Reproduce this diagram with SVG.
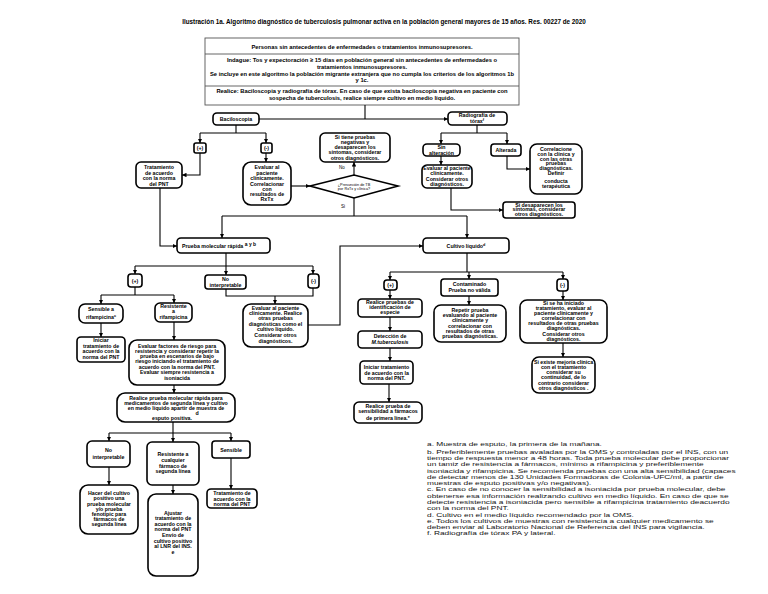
<svg xmlns="http://www.w3.org/2000/svg" width="768" height="594" viewBox="0 0 768 594">
<style>
.b{fill:#fff;stroke:#000;stroke-width:1.6}
.l{fill:none;stroke:#000;stroke-width:1.1}
.a{fill:none;stroke:#000;stroke-width:1.1;marker-end:url(#ar)}
text{font-family:"Liberation Sans",Arial,sans-serif}
.t{font-size:5.25px;font-weight:bold;text-anchor:middle}
.s{font-size:3.8px;baseline-shift:super}
.ti{font-size:6.3px;font-weight:bold;text-anchor:middle}
.hb{font-size:5.8px;font-weight:bold;text-anchor:middle}
.lb{font-size:4.5px;text-anchor:middle}
.fn{font-size:6px;fill:#111}
</style>
<defs>
<marker id="ar" viewBox="0 0 6 6" refX="6" refY="3" markerWidth="4.5" markerHeight="4.5" markerUnits="userSpaceOnUse" orient="auto"><path d="M0,0L6,3L0,6z" fill="#000"/></marker>
</defs>
<rect width="768" height="594" fill="#fff"/>
<text class="ti" x="384" y="24">Ilustración 1a. Algoritmo diagnóstico de tuberculosis pulmonar activa en la población general mayores de 15 años.  Res. 00227 de 2020</text>

<g id="header">
<rect x="205" y="38" width="314" height="67" fill="#fff" stroke="#555" stroke-width="0.9"/>
<line x1="205" y1="54" x2="519" y2="54" stroke="#555" stroke-width="0.9"/>
<line x1="205" y1="86" x2="519" y2="86" stroke="#555" stroke-width="0.9"/>
<text class="hb" x="362" y="49">Personas sin antecedentes de enfermedades o tratamientos inmunosupresores.</text>
<text class="hb" x="362" y="62">Indague: Tos y expectoración ≥ 15 días en población general sin antecedentes de enfermedades o</text>
<text class="hb" x="362" y="68.7">tratamientos inmunosupresores.</text>
<text class="hb" x="362" y="75.5">Se incluye en este algoritmo la población migrante extranjera que no cumpla los criterios de los algoritmos 1b</text>
<text class="hb" x="362" y="82.2">y 1c.</text>
<text class="hb" x="362" y="92.8">Realice: Baciloscopia y radiografía de tórax. En caso de que exista baciloscopia negativa en paciente con</text>
<text class="hb" x="362" y="99.5">sospecha de tuberculosis, realice siempre cultivo en medio líquido.</text>
</g>

<g id="connectors">
<path class="l" d="M365,105V119"/>
<path class="a" d="M259,119H448"/>
<path class="l" d="M236,125V133M200,133H266"/>
<path class="a" d="M200,133V143"/>
<path class="a" d="M266,133V143"/>
<path class="a" d="M200,153V175H182"/>
<path class="a" d="M266,153V162"/>
<path class="a" d="M160,188V246H177"/>
<path class="a" d="M291,186H310"/>
<path class="a" d="M354,175V162"/>
<path class="l" d="M354,198V216M222,216H467"/>
<path class="a" d="M222,216V238"/>
<path class="a" d="M467,216V238"/>
<path class="l" d="M477,125V133M441,133H507"/>
<path class="a" d="M441,133V144"/>
<path class="a" d="M507,133V144"/>
<path class="a" d="M441,156V165"/>
<path class="a" d="M507,156V169H530"/>
<path class="a" d="M451,188V210H503"/>
<path class="a" d="M308,325H340V246H423"/>
<path class="l" d="M135,266H313"/>
<path class="a" d="M226,253V275"/>
<path class="a" d="M135,266V274"/>
<path class="a" d="M313,266V274"/>
<path class="l" d="M226,289V296H313V288"/>
<path class="a" d="M275,296V304"/>
<path class="l" d="M135,287V295M101,295H174"/>
<path class="a" d="M101,295V304"/>
<path class="a" d="M174,295V303"/>
<path class="a" d="M101,323V337"/>
<path class="a" d="M174,322V340"/>
<path class="a" d="M174,385V393"/>
<path class="l" d="M173,422V433M109,433H231"/>
<path class="a" d="M109,433V441"/>
<path class="a" d="M173,433V442"/>
<path class="a" d="M231,433V441"/>
<path class="a" d="M109,467V485"/>
<path class="a" d="M173,485V494"/>
<path class="a" d="M231,458V489"/>
<path class="l" d="M467,253V272M390,272H563"/>
<path class="a" d="M390,272V280"/>
<path class="a" d="M469,272V279"/>
<path class="a" d="M563,272V279"/>
<path class="a" d="M390,290V299"/>
<path class="a" d="M390,317V331"/>
<path class="a" d="M390,348V361"/>
<path class="a" d="M389,384V402"/>
<path class="a" d="M469,296V305"/>
<path class="a" d="M563,291V300"/>
<path class="a" d="M563,343V357"/>
<text class="lb" x="342" y="169">No</text>
<text class="lb" x="343" y="208">Si</text>
</g>

<g id="baciloscopia"><rect class="b" x="213" y="113" width="46" height="12" rx="4"/><text class="t" x="236" y="121">Baciloscopia</text></g>
<g id="radiografia"><rect class="b" x="448" y="112" width="59" height="13" rx="4"/><text class="t" x="477" y="117">Radiografía de</text><text class="t" x="477" y="123">tórax<tspan class="s">f</tspan></text></g>
<g id="bacilo-pos"><rect class="b" x="194" y="143" width="12" height="10" rx="2"/><text class="t" x="200" y="150">(+)</text></g>
<g id="bacilo-neg"><rect class="b" x="261" y="143" width="11" height="10" rx="2"/><text class="t" x="266.5" y="150">(-)</text></g>
<g id="tratamiento-1"><rect class="b" x="136" y="162" width="46" height="26" rx="5"/>
<text class="t" x="159" y="169">Tratamiento</text><text class="t" x="159" y="174.5">de acuerdo</text><text class="t" x="159" y="180">con la norma</text><text class="t" x="159" y="185.5">del PNT</text></g>
<g id="evaluar-1"><rect class="b" x="243" y="162" width="48" height="43" rx="8"/>
<text class="t" x="267" y="169">Evaluar al</text><text class="t" x="267" y="174.5">paciente</text><text class="t" x="267" y="180">clínicamente.</text><text class="t" x="267" y="185.5">Correlacionar</text><text class="t" x="267" y="191">con</text><text class="t" x="267" y="196">resultados de</text><text class="t" x="267" y="201">RxTx</text></g>
<g id="decision"><polygon class="b" points="310,186 354,175 398,186 354,198"/>
<text class="lb" style="font-size:3.8px" x="354" y="185.5">¿Presunción  de TB</text><text class="lb" style="font-size:3.8px" x="354" y="190">por RxTx y clínica?</text></g>
<g id="si-tiene"><rect class="b" x="320" y="133" width="70" height="29" rx="5"/>
<text class="t" x="355" y="138.5">Si tiene pruebas</text><text class="t" x="355" y="143.7">negativas y</text><text class="t" x="355" y="149">desaparecen los</text><text class="t" x="355" y="154.3">síntomas, considerar</text><text class="t" x="355" y="159.5">otros diagnósticos.</text></g>
<g id="sin-alteracion"><rect class="b" x="423" y="144" width="37" height="12" rx="4"/><text class="t" x="441.5" y="149">Sin</text><text class="t" x="441.5" y="154.5">alteración</text></g>
<g id="alterada"><rect class="b" x="491" y="144" width="30" height="12" rx="3"/><text class="t" x="506" y="151.5">Alterada</text></g>
<g id="evaluar-2"><rect class="b" x="422" y="165" width="50" height="23" rx="5"/>
<text class="t" x="447" y="170">Evaluar al paciente</text><text class="t" x="447" y="175">clínicamente.</text><text class="t" x="447" y="180.5">Considerar otros</text><text class="t" x="447" y="186">diagnósticos.</text></g>
<g id="correlacione"><rect class="b" x="530" y="144" width="52" height="50" rx="7"/>
<text class="t" x="556" y="150.5">Correlacione</text><text class="t" x="556" y="156">con la clínica y</text><text class="t" x="556" y="160.5">con las otras</text><text class="t" x="556" y="165">pruebas</text><text class="t" x="556" y="170">diagnósticas.</text><text class="t" x="556" y="175">Definir</text><text class="t" x="556" y="183">conducta</text><text class="t" x="556" y="188">terapéutica</text></g>
<g id="si-desaparecen"><rect class="b" x="503" y="202" width="72" height="16" rx="3"/>
<text class="t" x="539" y="206.5">Si desaparecen los</text><text class="t" x="539" y="211.3">síntomas, considerar</text><text class="t" x="539" y="216">otros diagnósticos.</text></g>

<g id="prueba-molecular"><rect class="b" x="177" y="238" width="93" height="15" rx="4"/><text class="t" style="text-anchor:start" x="182" y="247.5">Prueba molecular rápida <tspan style="font-size:5px" dy="-2">a y b</tspan></text></g>
<g id="cultivo"><rect class="b" x="423" y="238" width="86" height="15" rx="4"/><text class="t" x="466" y="247.5">Cultivo líquido<tspan class="s">d</tspan></text></g>
<g id="pm-pos"><rect class="b" x="128" y="274" width="14" height="13" rx="3"/><text class="t" x="135" y="282.5">(+)</text></g>
<g id="pm-noint"><rect class="b" x="205" y="275" width="41" height="14" rx="3"/><text class="t" x="225.5" y="280.5">No</text><text class="t" x="225.5" y="286.5">interpretable</text></g>
<g id="pm-neg"><rect class="b" x="308" y="274" width="11" height="14" rx="3"/><text class="t" x="313.5" y="282.5">(-)</text></g>
<g id="sensible-rif"><rect class="b" x="79" y="304" width="44" height="19" rx="6"/><text class="t" x="101" y="310.5">Sensible a</text><text class="t" x="101" y="318.5">rifampicina<tspan class="s">c</tspan></text></g>
<g id="resistente-rif"><rect class="b" x="155" y="303" width="37" height="19" rx="5"/><text class="t" x="173.5" y="308">Resistente</text><text class="t" x="173.5" y="313">a</text><text class="t" x="173.5" y="319">rifampicina</text></g>
<g id="evaluar-3"><rect class="b" x="243" y="304" width="65" height="43" rx="8"/>
<text class="t" x="275.5" y="310">Evaluar al paciente</text><text class="t" x="275.5" y="315">clínicamente. Realice</text><text class="t" x="275.5" y="320">otras pruebas</text><text class="t" x="275.5" y="326">diagnósticas como el</text><text class="t" x="275.5" y="331">cultivo líquido.</text><text class="t" x="275.5" y="337">Considerar otros</text><text class="t" x="275.5" y="343">diagnósticos.</text></g>
<g id="iniciar-1"><rect class="b" x="77" y="337" width="48" height="25" rx="4"/>
<text class="t" x="101" y="342">Iniciar</text><text class="t" x="101" y="347.5">tratamiento de</text><text class="t" x="101" y="353">acuerdo con la</text><text class="t" x="101" y="358.5">norma del PNT</text></g>
<g id="evaluar-factores"><rect class="b" x="129" y="340" width="96" height="45" rx="8"/>
<text class="t" x="177" y="348">Evaluar factores de riesgo para</text><text class="t" x="177" y="353">resistencia y considerar repetir la</text><text class="t" x="177" y="358">prueba en escenarios de bajo</text><text class="t" x="177" y="363">riesgo iniciando el tratamiento de</text><text class="t" x="177" y="369">acuerdo con la norma del PNT.</text><text class="t" x="177" y="374">Evaluar siempre resistencia a</text><text class="t" x="177" y="379.5">isoniacida</text></g>
<g id="realice-molecular"><rect class="b" x="117" y="393" width="118" height="29" rx="8"/>
<text class="t" x="176" y="400">Realice prueba molecular rápida para</text><text class="t" x="176" y="405">medicamentos de segunda línea y cultivo</text><text class="t" x="176" y="410">en medio líquido apartir de muestra de</text><text class="t" x="197" y="414.5">d</text><text class="t" x="172" y="419.5">esputo positiva.</text></g>
<g id="noint-2"><rect class="b" x="87" y="441" width="43" height="26" rx="5"/><text class="t" x="108.5" y="452">No</text><text class="t" x="108.5" y="458.5">interpretable</text></g>
<g id="resistente-2"><rect class="b" x="147" y="442" width="52" height="43" rx="5"/>
<text class="t" x="173" y="456">Resistente a</text><text class="t" x="173" y="462">cualquier</text><text class="t" x="173" y="468">fármaco de</text><text class="t" x="173" y="473">segunda línea</text></g>
<g id="sensible-2"><rect class="b" x="212" y="441" width="38" height="17" rx="3"/><text class="t" x="231" y="451.5">Sensible</text></g>
<g id="hacer-cultivo"><rect class="b" x="80" y="485" width="58" height="49" rx="8"/>
<text class="t" x="109" y="495">Hacer del cultivo</text><text class="t" x="109" y="500">positivo una</text><text class="t" x="109" y="505.5">prueba molecular</text><text class="t" x="109" y="511">y/o prueba</text><text class="t" x="109" y="516">fenotípic para</text><text class="t" x="109" y="521">fármacos de</text><text class="t" x="109" y="526">segunda línea</text></g>
<g id="ajustar"><rect class="b" x="148" y="494" width="50" height="82" rx="8"/>
<text class="t" x="173" y="515">Ajustar</text><text class="t" x="173" y="520">tratamiento de</text><text class="t" x="173" y="526">acuerdo con la</text><text class="t" x="173" y="531">norma del PNT</text><text class="t" x="173" y="537">Envío de</text><text class="t" x="173" y="543">cultivo positivo</text><text class="t" x="173" y="548">al LNR del INS.</text><text class="t" x="173" y="554">e</text></g>
<g id="tratamiento-2"><rect class="b" x="207" y="489" width="50" height="19" rx="4"/>
<text class="t" x="232" y="495">Tratamiento de</text><text class="t" x="232" y="500.5">acuerdo con la</text><text class="t" x="232" y="506">norma del PNT</text></g>

<g id="cult-pos"><rect class="b" x="384" y="280" width="13" height="10" rx="3"/><text class="t" x="390.5" y="287">(+)</text></g>
<g id="contaminado"><rect class="b" x="441" y="279" width="57" height="17" rx="3"/><text class="t" x="469.5" y="285.5">Contaminado</text><text class="t" x="469.5" y="292">Prueba no válida</text></g>
<g id="cult-neg"><rect class="b" x="557" y="279" width="11" height="12" rx="3"/><text class="t" x="562.5" y="287">(-)</text></g>
<g id="identificacion"><rect class="b" x="358" y="299" width="64" height="18" rx="4"/>
<text class="t" x="390" y="304">Realice pruebas de</text><text class="t" x="390" y="309">identificación de</text><text class="t" x="390" y="314">especie</text></g>
<g id="deteccion"><rect class="b" x="358" y="331" width="64" height="17" rx="4"/>
<text class="t" x="390" y="337.5">Detección de</text><text class="t" x="390" y="344" font-style="italic">M.tuberculosis</text></g>
<g id="iniciar-2"><rect class="b" x="360" y="361" width="53" height="23" rx="4"/>
<text class="t" x="386.5" y="369">Iniciar tratamiento</text><text class="t" x="386.5" y="374.5">de acuerdo con la</text><text class="t" x="386.5" y="380">norma del PNT.</text></g>
<g id="sensibilidad"><rect class="b" x="354" y="402" width="68" height="21" rx="5"/>
<text class="t" x="388" y="408">Realice prueba de</text><text class="t" x="388" y="412.5">sensibilidad a fármacos</text><text class="t" x="388" y="419.5">de primera línea.<tspan class="s">e</tspan></text></g>
<g id="repetir"><rect class="b" x="434" y="305" width="72" height="37" rx="7"/>
<text class="t" x="470" y="311.5">Repetir prueba</text><text class="t" x="470" y="316.5">evaluando al paciente</text><text class="t" x="470" y="321.5">clínicamente y</text><text class="t" x="470" y="328">correlacionar con</text><text class="t" x="470" y="332.5">resultados de otras</text><text class="t" x="470" y="337.5">pruebas diagnósticas.</text></g>
<g id="si-se-ha"><rect class="b" x="520" y="300" width="87" height="43" rx="7"/>
<text class="t" x="563.5" y="304.5">Si se ha iniciado</text><text class="t" x="563.5" y="309.5">tratamiento, evaluar al</text><text class="t" x="563.5" y="314.5">paciente clínicamente y</text><text class="t" x="563.5" y="320">correlacionar con</text><text class="t" x="563.5" y="325">resultados de otras pruebas</text><text class="t" x="563.5" y="330">diagnósticas.</text><text class="t" x="563.5" y="335.5">Considerar otros</text><text class="t" x="563.5" y="340.5">diagnósticos.</text></g>
<g id="si-existe"><rect class="b" x="532" y="357" width="63" height="36" rx="7"/>
<text class="t" x="563.5" y="364">Si existe mejoría clínica</text><text class="t" x="563.5" y="369">con el tratamiento</text><text class="t" x="563.5" y="374">considerar su</text><text class="t" x="563.5" y="379">continuidad, de lo</text><text class="t" x="563.5" y="385">contrario considerar</text><text class="t" x="563.5" y="390">otros diagnósticos .</text></g>

<g id="footnotes" transform="translate(427 0) scale(1.39 1)">
<text class="fn" x="0" y="446.5">a. Muestra de esputo, la primera de la mañana.</text>
<text class="fn" x="0" y="454">b. Preferiblemente pruebas avaladas por la OMS y controladas por el INS, con un</text>
<text class="fn" x="0" y="460.2">tiempo de respuesta menor a 48 horas. Toda prueba molecular debe proporcionar</text>
<text class="fn" x="0" y="466.4">un tamiz de resistencia a fármacos, mínimo a rifampicina y preferiblemente</text>
<text class="fn" x="0" y="472.6">isoniacida y rifampicina. Se recomienda pruebas con una alta sensibilidad (capaces</text>
<text class="fn" x="0" y="478.8">de detectar menos de 130 Unidades Formadoras de Colonia-UFC/ml, a partir de</text>
<text class="fn" x="0" y="485">muestras de esputo positivas y/o negativas).</text>
<text class="fn" x="0" y="491.5">c. En caso de no conocer la sensibilidad a isoniacida por prueba molecular, debe</text>
<text class="fn" x="0" y="497.7">obtenerse esa información realizando cultivo en medio líquido. En caso de que se</text>
<text class="fn" x="0" y="503.9">detecte resistencia a isoniacida pero sensible a rifampicina tratamiento deacuerdo</text>
<text class="fn" x="0" y="510.1">con la norma del PNT.</text>
<text class="fn" x="0" y="516.8">d. Cultivo en el medio líquido recomendado por la OMS.</text>
<text class="fn" x="0" y="523">e. Todos los cultivos de muestras con resistencia a cualquier medicamento se</text>
<text class="fn" x="0" y="529.2">deben enviar al Laboratorio Nacional de Referencia del INS para vigilancia.</text>
<text class="fn" x="0" y="535.4">f. Radiografía de tórax PA y lateral.</text>
</g>
</svg>
